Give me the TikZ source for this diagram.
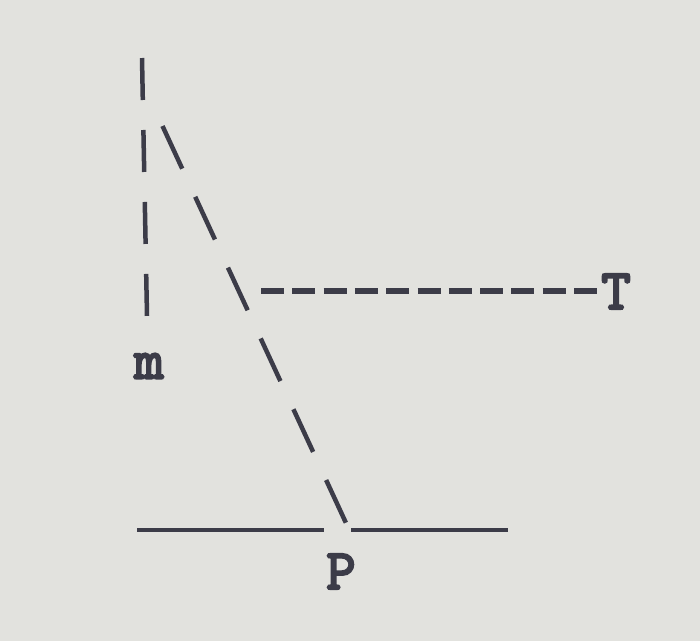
\documentclass[tikz,border=0pt]{standalone}
\usepackage{fontspec}
\newfontfamily\typew{Latin Modern Mono}[BoldFont={Latin Modern Mono},BoldFeatures={FakeBold=4}]
\definecolor{paper}{HTML}{E2E2DE}
\definecolor{ink}{HTML}{3C3C48}
\begin{document}
\begin{tikzpicture}[x=1pt,y=-1pt,
  stroke/.style={draw=ink,line width=4.5pt,line cap=butt},
  lbl/.style={text=ink,inner sep=0pt,font=\typew\bfseries\fontsize{57}{57}\selectfont}]
\fill[paper] (0,0) rectangle (700,641);
\useasboundingbox (0,0) rectangle (700,641);
% labels
\node[lbl] (T) at (616,291.5) {T};
\node[lbl] (m) at (149,366) {m};
\node[lbl] (P) at (341,571.5) {P};
% points
\coordinate (vtop) at (142,58);
\coordinate (vbot) at (147,316);
\coordinate (stop) at (162.5,126);
\coordinate (sbot) at (346,523);
\coordinate (h0) at (261,291);
\coordinate (h1) at (597,291);
\coordinate (bl0) at (137,530);
\coordinate (bl1) at (324,530);
\coordinate (br0) at (351,530);
\coordinate (br1) at (508,530);
% vertical dashed line
\draw[stroke,dash pattern=on 42pt off 30pt] (vtop) -- (vbot);
% slanted dashed line
\draw[stroke,dash pattern=on 47pt off 31pt] (stop) -- (sbot);
% horizontal dashed line to T
\draw[stroke,line width=5.5pt,dash pattern=on 23pt off 8.3pt] (h0) -- (h1);
% base line
\draw[stroke] (bl0) -- (bl1);
\draw[stroke] (br0) -- (br1);
\end{tikzpicture}
\end{document}
